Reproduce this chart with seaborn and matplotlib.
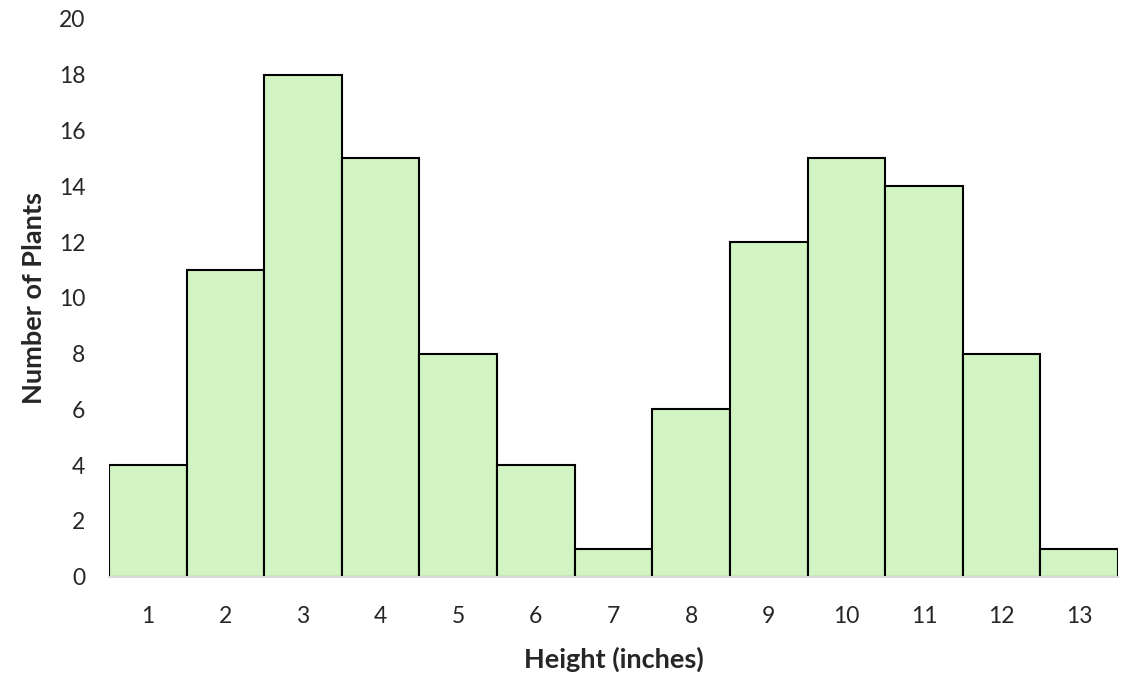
import matplotlib
matplotlib.use("Agg")
import matplotlib.pyplot as plt
import seaborn as sns
import pandas as pd

heights = [1, 2, 3, 4, 5, 6, 7, 8, 9, 10, 11, 12, 13]
counts = [4, 11, 18, 15, 8, 4, 1, 6, 12, 15, 14, 8, 1]
y_ticks = [0, 2, 4, 6, 8, 10, 12, 14, 16, 18, 20]


def main():
    sns.set_style("white")
    plt.rcParams["font.family"] = ["Lato", "DejaVu Sans"]

    df = pd.DataFrame({"height": heights, "count": counts})

    fig = plt.figure(figsize=(11.38, 6.85), dpi=100)
    ax = fig.add_axes([0.0958, 0.158, 0.8866, 0.8145])
    sns.barplot(data=df, x="height", y="count", color="#D1F4C2",
                saturation=1, width=1.0, edgecolor="black", linewidth=1.5, ax=ax)

    ax.set_ylim(0, 20)
    ax.set_xlim(-0.5, len(heights) - 0.5)
    ax.set_yticks(y_ticks)
    ax.tick_params(axis="both", labelsize=16.5, length=0)
    ax.tick_params(axis="x", pad=21)
    ax.tick_params(axis="y", pad=17)
    for s in ["top", "right", "left"]:
        ax.spines[s].set_visible(False)
    ax.spines["bottom"].set_color("#D9D9D9")
    ax.spines["bottom"].set_linewidth(1.5)

    ax.set_xlabel("Height (inches)", fontsize=19.5, fontweight="bold", labelpad=14)
    ax.set_ylabel("Number of Plants", fontsize=19.5, fontweight="bold", labelpad=9)

    fig.savefig("out.png", dpi=100)


if __name__ == "__main__":
    main()
